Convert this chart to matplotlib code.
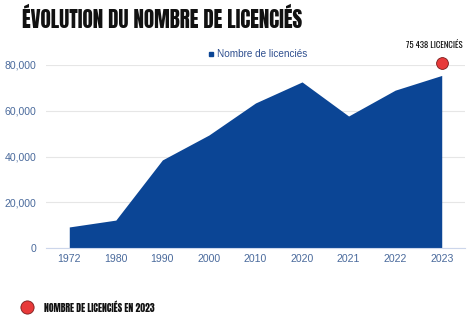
import matplotlib
matplotlib.use("Agg")
import matplotlib.pyplot as plt
import matplotlib.transforms as mtransforms
from matplotlib.lines import Line2D

years = ["1972", "1980", "1990", "2000", "2010", "2020", "2021", "2022", "2023"]
licencies = [9200, 12200, 38500, 49400, 63400, 72600, 57700, 69000, 75438]
y_ticks = [0, 20000, 40000, 60000, 80000]
y_tick_labels = ["0", "20,000", "40,000", "60,000", "80,000"]

fill_color = "#0b4595"
tick_color = "#4a6a9c"
red = "#e83a3a"

plt.rcParams["font.family"] = ["Liberation Sans", "DejaVu Sans"]

fig = plt.figure(figsize=(4.74, 3.24), dpi=100)
fig.patch.set_facecolor("white")
W, H = 474, 324
ax = fig.add_axes([46 / W, 1 - 248 / H, (465 - 46) / W, (248 - 65) / H])

x = list(range(len(years)))
ax.fill_between(x, licencies, 0, color=fill_color, linewidth=0, zorder=2)
ax.set_xlim(-0.5, 8.5)
ax.set_ylim(0, 80000)
ax.set_xticks(x)
ax.set_xticklabels(years)
ax.set_yticks(y_ticks)
ax.set_yticklabels(y_tick_labels)
ax.tick_params(axis="both", length=0, labelsize=7.6, colors=tick_color, pad=4)
ax.tick_params(axis="y", pad=7)
ax.grid(axis="y", color="#e6e6e6", linewidth=0.8, zorder=0)
for s in ["top", "right", "left"]:
    ax.spines[s].set_visible(False)
ax.spines["bottom"].set_color("#ccd6eb")
ax.spines["bottom"].set_linewidth(0.8)
ax.set_facecolor("white")

# highlighted 2023 marker, raised above the area's edge
last = len(years) - 1
raise_up = mtransforms.ScaledTranslation(0, 12 / 100, fig.dpi_scale_trans)
ax.plot([last], [licencies[-1]], marker="o", markersize=8.5, markerfacecolor=red,
        markeredgecolor="#7a1a1a", markeredgewidth=0.6, linestyle="none",
        clip_on=False, zorder=5, transform=ax.transData + raise_up)
fig.text(463 / W, 1 - 44 / H, f"{licencies[-1]:,}".replace(",", " ") + " LICENCIÉS",
         ha="right", va="center", fontsize=6.3, family="Oswald", fontweight="bold", color="#111111")

# legend
leg = ax.legend(handles=[Line2D([], [], marker="s", linestyle="none", markersize=3.5,
                                color=fill_color, label="Nombre de licenciés")],
                loc="center", bbox_to_anchor=(256 / W, 1 - 54 / H), bbox_transform=fig.transFigure,
                frameon=False, fontsize=7.2, handletextpad=0.0, handlelength=1.2, borderpad=0)
for t in leg.get_texts():
    t.set_color("#2f4f8f")

fig.text(22 / W, 1 - 18.5 / H, "ÉVOLUTION DU NOMBRE DE LICENCIÉS", ha="left", va="center",
         fontsize=15.2, family="Anton", color="#111111")

# bottom key
fig.lines.append(Line2D([27 / W], [1 - 307 / H], marker="o", markersize=9.5,
                        markerfacecolor=red, markeredgecolor="#7a1a1a", markeredgewidth=0.6,
                        transform=fig.transFigure, linestyle="none"))
fig.text(44 / W, 1 - 307 / H, "NOMBRE DE LICENCIÉS EN 2023", ha="left", va="center",
         fontsize=7, family="Anton", color="#111111")

fig.savefig("out.png", dpi=100, facecolor="white")
